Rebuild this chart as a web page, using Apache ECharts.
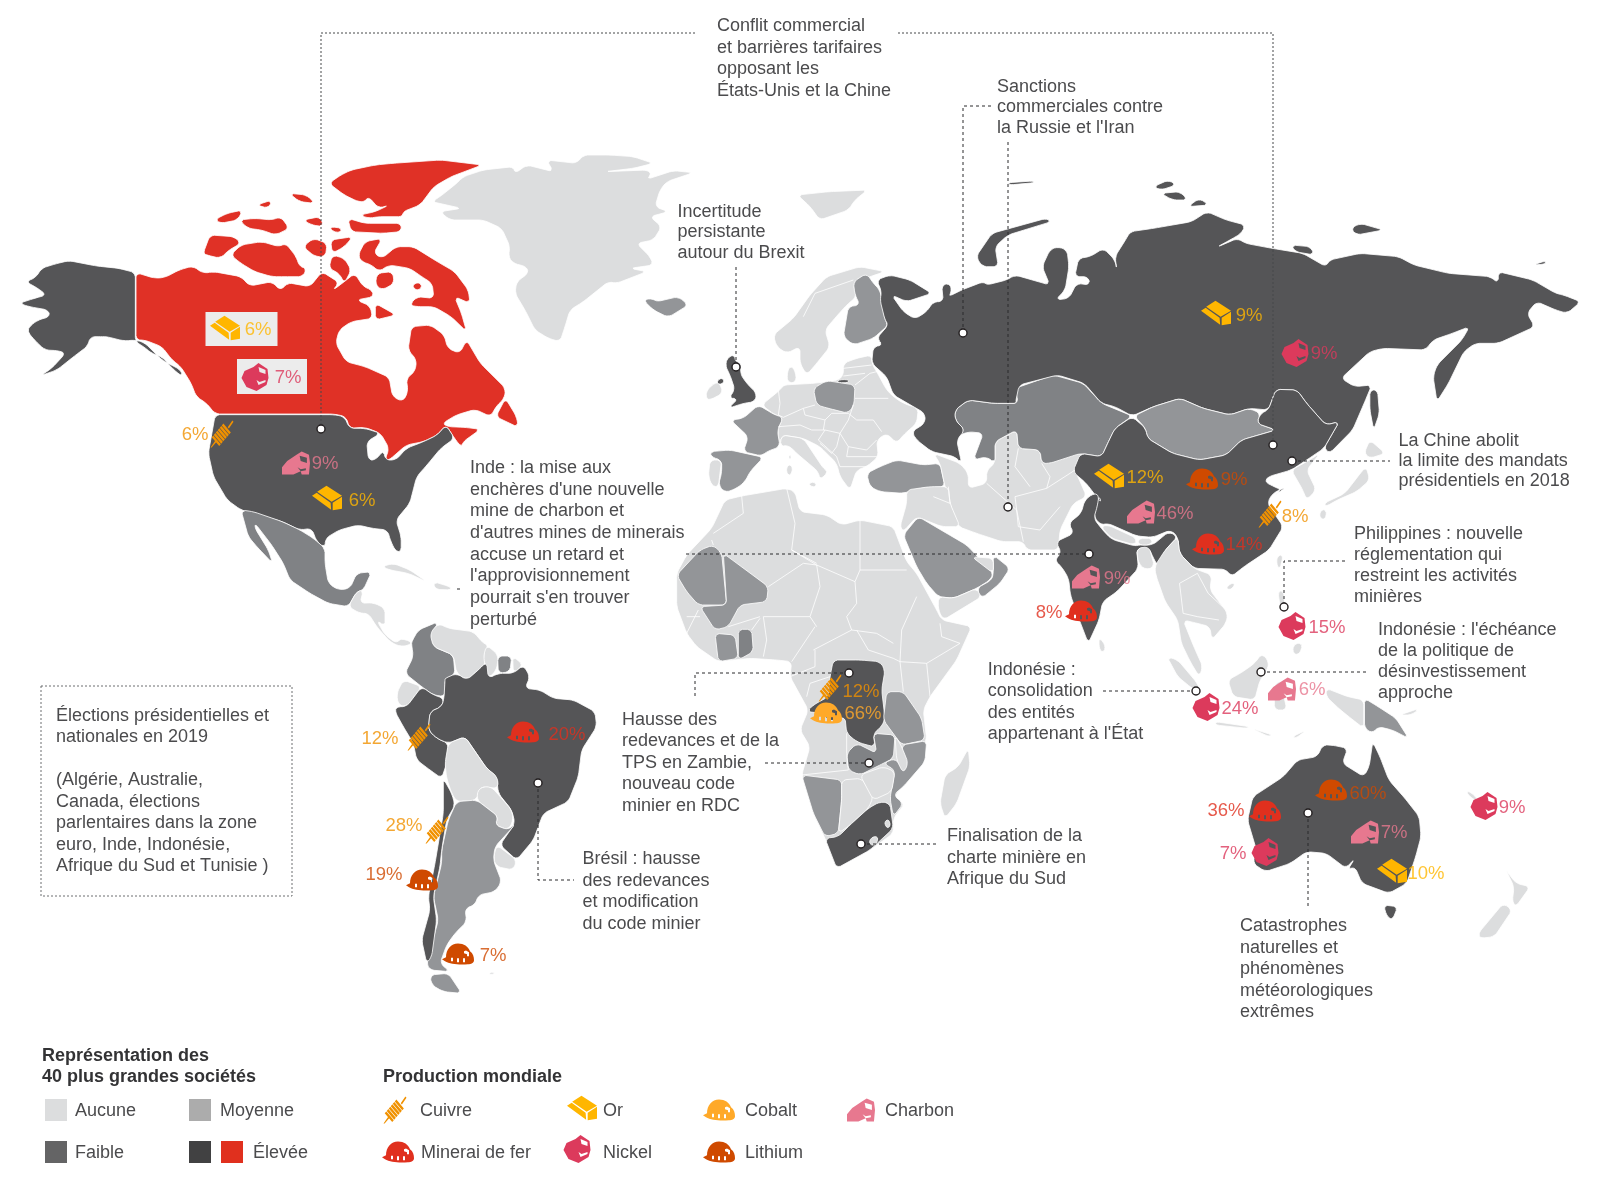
<!DOCTYPE html>
<html>
<head>
<meta charset="utf-8">
<title>Production mondiale</title>
<script src="https://cdn.jsdelivr.net/npm/echarts@6/dist/echarts.min.js"></script>
<style>
  html, body { margin: 0; padding: 0; background: #fff; }
  #chart { width: 1601px; height: 1181px; }
</style>
</head>
<body>
<div id="chart"></div>
<script>
// representation levels
const levelAucune = ["Afrique", "Groenland", "Svalbard", "Scandinavie", "Irlande", "Portugal", "Europe", "Italie", "Asie centrale", "Moyen-Orient", "Yemen", "EAU", "Amerique centrale", "Cuba", "Hispaniola", "Venezuela", "Guyana", "Guyane", "Equateur", "Bolivie", "Paraguay", "Uruguay", "Malouines", "Malawi", "Botswana", "Zimbabwe", "Lesotho", "Swaziland", "Madagascar", "Nepal", "Bhoutan", "Bangladesh", "Coree", "Japon", "Taiwan", "Hainan", "Sri Lanka", "Asie du Sud-Est", "Sumatra", "Java", "Timor", "Borneo", "Sulawesi", "Luzon", "Mindanao", "Nouvelle-Guinee indonesienne", "Nouvelle-Bretagne", "Nouvelle-Caledonie", "Nouvelle-Zelande"];
const levelFaible = ["Mexique", "Colombie", "Suriname", "Kazakhstan", "Ghana", "Zambie"];
const levelMoyenne = ["Argentine", "Islande", "Finlande", "France", "Espagne", "Pologne", "Turquie", "Arabie saoudite", "Oman", "Mauritanie", "Mali", "Cote d'Ivoire", "Tanzanie", "Mozambique", "Namibie", "Mongolie", "Papouasie"];
const levelElevee = ["Alaska", "Etats-Unis", "Perou", "Bresil", "Chili", "Royaume-Uni", "Irlande du Nord", "Kaliningrad", "Russie", "Arctique russe", "Sakhaline", "RDC", "Afrique du Sud", "Chine", "Inde", "Australie", "Tasmanie"];
const levelRouge = ["Canada", "Arctique canadien"];
const levelColors = { aucune: "#dcddde", faible: "#808285", moyenne: "#939598", elevee: "#555557", rouge: "#e03126" };

// world production shares
const minerals = ["Cuivre", "Or", "Cobalt", "Charbon", "Minerai de fer", "Nickel", "Lithium"];
const mineralColors = ["#f09100", "#ffb600", "#ffa929", "#e7788f", "#e0301e", "#dc3a5c", "#cf4a00"];
const shareMineral = ["Or", "Nickel", "Cuivre", "Charbon", "Or", "Cuivre", "Minerai de fer", "Cuivre", "Lithium", "Lithium", "Cuivre", "Cobalt", "Or", "Nickel", "Or", "Lithium", "Charbon", "Cuivre", "Minerai de fer", "Charbon", "Minerai de fer", "Nickel", "Nickel", "Charbon", "Lithium", "Minerai de fer", "Nickel", "Charbon", "Or", "Nickel"];
const sharePct = [6, 7, 6, 9, 6, 12, 20, 28, 19, 7, 12, 66, 9, 9, 12, 9, 46, 8, 14, 9, 8, 15, 24, 6, 60, 36, 7, 7, 10, 9];
const shareIconAt = [[225,328],[255,377],[222,434],[296,463],[327,498],[419,737],[523,732],[437,830],[422,880],[458,954],[830,688],[826,713],[1216,313],[1295,353],[1109,476],[1202,479],[1141,512],[1270,514],[1208,544],[1086,577],[1081,611],[1292,626],[1206,707],[1282,689],[1331,790],[1265,811],[1265,852],[1365,832],[1392,871],[1484,806]];
const shareLabelAt = [[258,330],[288,378],[195,435],[325,464],[362,501],[380,739],[567,735],[404,826],[384,875],[493,956],[861,692],[863,714],[1249,316],[1324,354],[1145,478],[1234,480],[1175,514],[1295,517],[1244,545],[1117,579],[1049,613],[1327,628],[1240,709],[1312,690],[1368,794],[1226,811],[1233,854],[1394,833],[1426,874],[1512,808]];
const labelBoxes = [[241.5,329,72,34],[272,376.5,70,35]];
const legendIconAt = [[395,1110],[582,1108],[719,1110],[861,1110],[398,1152],[577,1149],[719,1152]];
const legendTextX = [420,603,745,885,421,603,745];

// leader lines
const tradeLines = [[[321,429],[321,33],[695,33]], [[898,33],[1273,33],[1273,445]]];
const noteLines = [[[991,106],[963,106],[963,333]], [[1008,142],[1008,507]], [[736,267],[736,367]], [[686,554],[1089,554]], [[538,783],[538,880],[574,880]], [[849,673],[695,673],[695,697]], [[765,763],[869,763]], [[861,844],[938,844]], [[1345,561],[1284,561],[1284,607]], [[1261,672],[1368,672]], [[1103,691],[1196,691]], [[1308,813],[1308,906]], [[1292,461],[1390,461]], [[457,589],[463,589]]];
const noteDots = [[321,429],[1273,445],[963,333],[1008,507],[736,367],[1089,554],[538,783],[849,673],[869,763],[861,844],[1284,607],[1261,672],[1196,691],[1308,813],[1292,461]];

// notes: x, first line y, line height, lines
const notes = [
  [717, 26, 21.6, ["Conflit commercial", "et barrières tarifaires", "opposant les", "États-Unis et la Chine"]],
  [997, 87, 20.4, ["Sanctions", "commerciales contre", "la Russie et l'Iran"]],
  [677.5, 211.7, 20.5, ["Incertitude", "persistante", "autour du Brexit"]],
  [470, 468, 21.7, ["Inde : la mise aux", "enchères d'une nouvelle", "mine de charbon et", "d'autres mines de minerais", "accuse un retard et", "l'approvisionnement", "pourrait s'en trouver", "perturbé"]],
  [1398.6, 441, 20, ["La Chine abolit", "la limite des mandats", "présidentiels en 2018"]],
  [1354, 533.7, 21, ["Philippines : nouvelle", "réglementation qui", "restreint les activités", "minières"]],
  [1378, 630, 21, ["Indonésie : l'échéance", "de la politique de", "désinvestissement", "approche"]],
  [987.7, 670, 21.5, ["Indonésie :", "consolidation", "des entités", "appartenant à l'État"]],
  [622, 720, 21.5, ["Hausse des", "redevances et de la", "TPS en Zambie,", "nouveau code", "minier en RDC"]],
  [947, 836.5, 21.5, ["Finalisation de la", "charte minière en", "Afrique du Sud"]],
  [582.5, 859, 21.7, ["Brésil : hausse", "des redevances", "et modification", "du code minier"]],
  [1240, 926.4, 21.5, ["Catastrophes", "naturelles et", "phénomènes", "météorologiques", "extrêmes"]],
  [56, 716, 21.5, ["Élections présidentielles et", "nationales en 2019", "", "(Algérie, Australie,", "Canada, élections", "parlentaires dans la zone", "euro, Inde, Indonésie,", "Afrique du Sud et Tunisie )"]]
];
const legendTitles = [[42, 1056, "Représentation des"], [42, 1077, "40 plus grandes sociétés"], [383, 1077, "Production mondiale"]];
const levelLegend = [[75, 1111, "Aucune"], [220, 1111, "Moyenne"], [75, 1153, "Faible"], [253, 1153, "Élevée"]];
const levelSwatches = [[45, 1099, "#dcddde"], [189, 1099, "#acacac"], [45, 1141, "#646465"], [189, 1141, "#414142"], [221, 1141, "#e0301e"]];

// crops the outlines were traced in: origin and scale
const Z1 = [0, 140, 2.904, 3], Z2 = [200, 530, 3, 3], Z3 = [640, 240, 3, 3], Z4 = [660, 470, 3, 3], Z5 = [1000, 170, 2.609, 3], Z6 = [1040, 480, 2.795, 3], Z8 = [300, 0, 1.568, 3], ZG = [420, 140, 3, 3], ZE = [700, 340, 3, 3];

function trace() {
  const out = [];
  for (let i = 0; i < arguments.length; i += 2) {
    const z = arguments[i], p = arguments[i + 1];
    for (let j = 0; j < p.length; j += 2) out.push([z[0] + p[j] / z[2], -(z[1] + p[j + 1] / z[3])]);
  }
  return out;
}

// rounds the traced corners a little, long straight borders stay straight
function soften(pts, cut) {
  const out = [], n = pts.length;
  const toward = function (a, b) {
    const dx = b[0] - a[0], dy = b[1] - a[1], len = Math.sqrt(dx * dx + dy * dy) || 1;
    const d = Math.min(len * 0.3, cut);
    return [a[0] + dx / len * d, a[1] + dy / len * d];
  };
  for (let i = 0; i < n; i++) {
    out.push(toward(pts[i], pts[(i + n - 1) % n]));
    out.push(toward(pts[i], pts[(i + 1) % n]));
  }
  return out;
}

function ring() {
  const out = soften(soften(trace.apply(null, arguments), 3), 1.2);
  out.push(out[0]);
  return out;
}

const outlines = [
  ["Groenland", [ring(ZG, [35,185,60,170,110,130,130,110,190,90,280,80,285,100,320,75,400,95,380,60,470,70,490,45,570,45,640,50,700,70,640,85,555,95,680,90,695,100,680,118,760,92,820,98,740,125,720,150,705,200,745,215,690,230,725,260,700,300,650,310,690,350,700,375,630,385,680,395,590,430,565,425,490,485,450,510,435,560,420,605,385,595,345,570,315,510,285,460,290,425,325,400,320,380,280,370,265,350,270,320,245,265,190,240,90,240,60,215,125,205])]],
  ["Svalbard", [ring(Z8, [780,585,830,575,890,570,870,600,860,630,815,660,800,620])]],
  ["Alaska", [ring(Z1, [393,398,345,385,280,378,200,362,160,372,120,385,105,412,75,425,110,445,135,465,100,475,55,490,85,500,140,510,145,530,110,540,85,560,80,575,100,600,130,630,170,632,190,640,150,685,118,707,165,690,220,645,255,618,262,590,297,590,310,590,360,603,393,600,420,608,470,660,525,690,530,710,505,690,470,650,440,640,420,622,393,605])]],
  ["Canada", [
    ring(Z1, [395,398,450,415,480,412,520,390,560,378,590,400,620,395,700,410,725,438,790,425,815,452,835,428,900,440,935,395,985,428,965,452,1000,425,1030,400,1055,440,1080,450,1085,470,1035,480,1075,498,1082,535,1020,545,985,570,975,610,1005,665,1060,680,1130,712,1140,770,1170,785,1185,755,1180,715,1205,695,1210,660,1185,630,1195,560,1250,555,1290,585,1300,625,1335,640,1355,600,1395,670,1468,745,1465,775,1440,800,1425,830,1380,808,1325,825,1285,850,1300,860,1350,862,1395,868,1345,905,1340,922,1320,895,1295,855,1270,885,1230,905,1180,915,1130,960,1118,960,1130,925,1105,880,1060,862,1015,865,1005,830,970,822,625,822,600,790,570,770,555,730,525,680,500,660,470,620,420,600,395,600]),
    ring(Z1, [1468,775,1440,830,1505,862,1500,830])
  ]],
  ["Arctique canadien", [
    ring(Z1, [590,340,610,285,680,290,700,310,665,330,640,355,600,345]),
    ring(Z1, [670,345,700,315,760,305,810,320,830,310,860,350,870,380,890,385,880,410,830,410,790,410,740,395,700,370]),
    ring(Z1, [625,238,660,220,705,210,690,240,640,250]),
    ring(Z1, [695,240,740,235,790,240,815,230,840,265,800,285,760,270,720,265]),
    ring(Z1, [745,195,790,180,780,205]),
    ring(Z1, [840,160,890,165,915,190,870,185]),
    ring(Z1, [880,240,930,230,940,260,905,255]),
    ring(Z1, [955,130,990,105,1020,90,1090,75,1140,70,1280,60,1400,75,1310,110,1260,140,1220,195,1170,215,1170,230,1100,230,1070,235,1045,225,1090,215,1130,195,1100,205,1070,170,1060,185,1040,185,1000,165]),
    ring(Z1, [1010,235,1060,250,1165,250,1165,275,1110,280,1020,275]),
    ring(Z1, [960,260,995,265,985,280,960,270]),
    ring(Z1, [880,320,910,295,950,310,945,350,915,350]),
    ring(Z1, [960,300,1025,290,1000,320,965,340]),
    ring(Z1, [955,385,965,345,1000,355,1020,390,1000,430,985,400]),
    ring(Z1, [1040,345,1060,305,1110,295,1085,340,1110,355,1150,320,1200,320,1270,365,1320,395,1360,450,1365,490,1320,470,1340,520,1355,575,1310,530,1260,500,1210,500,1190,495,1210,470,1260,475,1255,430,1225,410,1190,385,1130,375,1100,395,1080,375,1050,365]),
    ring(Z1, [1095,400,1140,395,1145,430,1110,450,1090,435]),
    ring(Z1, [1090,490,1150,525,1090,540]),
    ring(Z1, [1200,430,1225,428,1222,450,1200,448])
  ]],
  ["Etats-Unis", [ring(Z1, [625,824,970,824,1000,830,1015,865,1060,865,1105,880,1065,905,1070,960,1090,960,1115,930,1118,960,1150,960,1180,925,1230,905,1270,885,1295,855,1320,895,1280,925,1240,975,1210,1010,1200,1050,1190,1090,1150,1140,1165,1190,1165,1235,1150,1235,1135,1205,1125,1170,1080,1165,1040,1155,985,1170,945,1195,944,1224,920,1205,905,1165,870,1170,820,1145,770,1130,700,1110,660,1080,620,1010,605,940])]],
  ["Mexique", [ring(Z2, [123,-60,160,-55,247,-25,300,0,340,25,375,55,375,100,385,160,415,180,450,175,470,130,515,125,490,180,470,185,445,230,385,220,330,190,270,150,250,100,215,45,165,-20,165,-5,205,60,218,100,175,55,145,20])]],
  ["Amerique centrale", [ring(Z2, [445,230,470,185,490,180,480,220,520,218,555,235,555,290,530,270,555,315,590,340,600,325,635,335,630,345,600,350,570,335,530,290,505,250,480,250])]],
  ["Cuba", [ring(Z2, [545,110,580,100,630,120,680,155,625,130,570,120])]],
  ["Hispaniola", [ring(Z2, [700,155,750,170,755,180,705,178])]],
  ["Colombie", [ring(Z2, [635,335,655,300,715,275,695,315,700,350,760,375,765,435,735,445,735,500,700,495,665,470,615,430,640,380,635,345])]],
  ["Venezuela", [ring(Z2, [690,310,715,280,745,295,820,305,850,340,865,345,850,380,860,395,835,420,800,450,770,430,760,375,700,350])]],
  ["Guyana", [ring(Z2, [860,345,895,375,890,420,865,445,850,380])]],
  ["Suriname", [ring(Z2, [893,378,935,378,930,425,895,430])]],
  ["Guyane", [ring(Z2, [938,378,970,405,940,430])]],
  ["Equateur", [ring(Z2, [610,450,665,470,620,530,595,525,590,490])]],
  ["Perou", [ring(Z2, [590,530,620,530,665,470,700,495,732,505,725,530,690,545,685,600,710,625,745,640,740,700,725,745,690,720,650,690,640,640,610,590,585,545])]],
  ["Bresil", [ring(Z2, [735,445,770,430,800,450,835,420,860,395,865,445,895,430,940,430,970,405,990,440,975,475,1020,480,1060,505,1120,510,1185,545,1190,590,1145,660,1135,740,1105,815,1030,850,1000,930,950,990,900,945,945,880,935,840,895,790,890,740,860,715,795,620,745,640,710,625,685,600,690,545,725,530,732,505,735,450])]],
  ["Bolivie", [ring(Z2, [745,640,795,620,860,715,892,740,895,775,840,770,830,810,770,815,755,790,740,745,735,700])]],
  ["Paraguay", [ring(Z2, [835,775,870,768,892,790,935,840,940,870,925,900,885,885,895,860,830,810])]],
  ["Uruguay", [ring(Z2, [890,945,950,990,940,1020,890,1010,880,985])]],
  ["Argentine", [
    ring(Z2, [770,815,830,810,895,860,885,885,925,900,945,880,940,890,885,950,880,990,905,1055,885,1085,835,1095,825,1125,795,1135,800,1175,765,1210,740,1245,720,1300,750,1325,690,1320,680,1300,715,1170,700,1100,725,1000,725,960,745,870]),
    ring(Z2, [690,1335,745,1330,785,1390,730,1385,695,1365])
  ]],
  ["Chili", [ring(Z2, [730,745,755,790,765,825,740,870,725,960,720,1010,700,1100,710,1170,695,1280,680,1300,665,1230,690,1140,685,1100,705,1000,730,850])]],
  ["Malouines", [ring(Z2, [860,1330,885,1325,880,1335])]],
  ["Islande", [ring(Z3, [10,180,35,175,50,185,115,170,145,195,85,232,40,210])]],
  ["Scandinavie", [
    ring(Z3, [400,285,460,235,510,165,560,110,660,80,735,95,690,110,640,130,650,170,620,195,580,240,555,270,570,320,530,370,500,405,480,370,480,320,440,340,410,320]),
    ring(ZE, [260,105,270,75,285,90,290,125,265,130])
  ]],
  ["Finlande", [ring(Z3, [640,125,680,100,700,130,720,150,735,240,745,255,700,295,640,315,610,290,625,200,660,195,645,165])]],
  ["Irlande", [ring(ZE, [18,175,20,150,50,125,62,135,68,160,30,180])]],
  ["Royaume-Uni", [ring(ZE, [75,75,85,50,105,45,105,65,125,70,120,100,140,130,170,160,165,185,130,190,85,205,115,175,85,175,105,150,90,105])]],
  ["Irlande du Nord", [ring(ZE, [48,125,65,112,75,125,60,135])]],
  ["Europe", [ring(ZE, [185,195,240,150,250,135,340,130,410,122,430,108,430,70,470,55,515,45,515,70,530,95,560,150,580,170,610,190,655,205,650,250,610,285,590,310,560,280,530,300,535,350,500,380,470,390,450,450,420,410,410,370,360,320,310,295,245,285,240,320,232,270,250,232,225,225])]],
  ["Italie", [
    ring(ZE, [245,285,310,295,370,385,385,395,360,420,355,395,290,340,265,315,240,320]),
    ring(ZE, [320,430,350,425,345,445]),
    ring(ZE, [260,375,278,375,275,405,260,405]),
    ring(ZE, [265,345,275,345,270,365])
  ]],
  ["France", [ring(ZE, [92,240,130,235,175,195,225,225,250,232,232,270,240,320,200,335,185,348,130,335,145,290])]],
  ["Espagne", [ring(ZE, [30,335,90,330,190,352,150,395,135,425,110,445,75,458,55,435,65,400,65,360,35,352])]],
  ["Portugal", [ring(ZE, [30,360,65,360,60,400,55,440,38,440,25,410])]],
  ["Pologne", [ring(ZE, [340,145,380,122,465,135,462,195,445,220,385,205,350,195])]],
  ["Kaliningrad", [ring(Z3, [592,420,625,418,628,428,592,428])]],
  ["Turquie", [ring(Z3, [680,700,720,680,770,660,850,675,900,670,915,740,840,745,790,760,720,755,690,740])]],
  ["Asie centrale", [ring(Z3, [900,670,880,640,960,670,985,700,985,745,1040,730,1040,690,1065,670,1065,605,1130,570,1135,625,1200,630,1205,670,1290,640,1380,650,1360,680,1305,690,1340,770,1300,790,1260,870,1255,930,1160,930,1150,905,1085,905,1010,880,955,860,930,790,915,740])]],
  ["Moyen-Orient", [ring(Z3, [800,750,870,740,925,740,930,790,960,860,905,860,830,830,790,875,780,860,800,790])]],
  ["Kazakhstan", [ring(Z3, [945,510,985,480,1060,490,1135,490,1125,445,1240,405,1330,430], Z5, [265,700,345,738,300,775,285,810,265,860,210,850,130,880], Z3, [1205,670,1200,630,1135,625,1130,570,1065,605,1065,670,1040,650,1000,660,1030,580,985,575,950,590,975,570,945,540])]],
  ["Russie", [ring(Z3, [710,120,750,105,810,120,875,160,800,185,755,165,790,215,825,237,860,215,880,185,910,185,905,135,930,130,935,155,925,170,965,150,1030,125,1040,135,1100,120,1125,105], Z5, [130,345,110,290,130,240,150,230,175,240,180,290,170,360,145,390,180,385,200,340,235,345,230,320,195,320,205,265,235,260,270,235,300,270,305,300,300,260,330,205,340,185,400,175,500,155,540,125,590,150,640,165,630,190,600,210,565,232,620,205,640,220,710,235,790,250,850,290,860,270,940,250,1040,260,1080,285,1170,310,1280,320,1300,340,1300,305,1390,330,1450,370,1470,375,1515,395,1480,430,1450,420,1400,395,1375,430,1395,470,1300,520,1240,520,1210,545,1170,640,1140,695,1130,620,1140,585,1205,510,1225,470,1180,490,1130,510,1110,540,1000,535,965,545,890,625,925,650,970,645,950,700,920,780,860,850,845,835,885,755,850,765,800,700,775,660,720,658,700,720,650,715,600,735,530,715,470,685,400,710,345,738,300,710,265,700,220,640,150,615,50,645,40,700], Z3, [1135,490,1060,490,985,480,945,510,945,540,975,570,950,600,965,670,945,650,875,635,830,600,815,575,855,550,855,520,760,465,740,410,695,370,700,320,730,315,710,295,745,255,735,240,720,180,725,155])]],
  ["Arctique russe", [
    ring(Z8, [1060,770,1085,700,1170,655,1178,665,1110,705,1090,740,1095,800,1070,800]),
    ring(Z8, [1110,548,1150,543,1152,548,1112,555]),
    ring(Z5, [400,50,440,30,460,45,420,60]),
    ring(Z5, [420,70,470,65,490,90,450,90]),
    ring(Z5, [490,110,520,85,545,105]),
    ring(Z5, [760,225,810,230,820,255,770,245]),
    ring(Z5, [915,175,940,160,1000,180,930,195]),
    ring(Z5, [1390,285,1425,272,1425,282])
  ]],
  ["Sakhaline", [ring(Z5, [965,660,985,660,990,730,975,780,965,720])]],
  ["Afrique", [ring(Z4, [50,310,80,255,155,175,195,90,245,78,380,55,405,65,420,125,500,135,545,165,600,150,700,170,740,275,770,310,830,420,845,450,935,470,890,570,810,680,790,720,800,810,735,930,700,990,735,1000,700,1045,700,1090,630,1140,530,1195,495,1105,460,1030,425,915,450,830,420,780,445,720,390,620,395,575,350,570,270,565,175,575,110,530,80,490,50,410])]],
  ["Mauritanie", [ring(Z4, [50,315,120,240,160,225,185,250,200,405,115,405,80,365])]],
  ["Mali", [ring(Z4, [190,250,325,350,320,395,240,405,205,470,165,480,120,410,200,405])]],
  ["Cote d'Ivoire", [ring(Z4, [165,490,225,495,235,565,175,575])]],
  ["Ghana", [ring(Z4, [235,478,275,478,280,545,235,570])]],
  ["RDC", [ring(Z4, [520,570,600,570,660,575,675,600,665,660,675,745,665,770,640,790,645,830,620,825,590,815,560,790,555,740,505,755,490,730,440,725,460,705,505,680,510,620])]],
  ["Tanzanie", [ring(Z4, [680,665,730,665,785,745,795,810,725,825,670,750])]],
  ["Zambie", [ring(Z4, [640,790,705,795,700,865,670,880,600,915,565,900,560,850,590,820,650,850])]],
  ["Mozambique", [ring(Z4, [725,825,800,812,795,875,730,950,700,975,730,1000,700,1040,690,985,705,900,670,880,705,865,735,905])]],
  ["Malawi", [ring(Z4, [705,795,725,830,745,880,730,910,710,870])]],
  ["Namibie", [ring(Z4, [425,915,545,930,545,990,535,1090,495,1100,460,1030])]],
  ["Botswana", [ring(Z4, [545,930,605,925,640,980,625,1015,570,1065,535,1090,545,990])]],
  ["Zimbabwe", [ring(Z4, [600,915,670,890,705,905,695,965,640,990])]],
  ["Afrique du Sud", [ring(Z4, [495,1105,535,1100,570,1065,625,1015,660,995,690,1000,700,1075,630,1140,530,1195])]],
  ["Lesotho", [ring(Z4, [625,1110,650,1095,655,1115,635,1130])]],
  ["Swaziland", [ring(Z4, [675,1050,690,1050,690,1075,675,1070])]],
  ["Madagascar", [ring(Z4, [925,835,930,890,890,1000,855,1045,840,1000,855,915,895,890])]],
  ["Arabie saoudite", [ring(Z4, [730,195,775,140,860,190,920,225,1000,310,990,330,950,355,880,385,835,380,800,340,770,290])]],
  ["Yemen", [ring(Z4, [835,380,880,385,950,355,965,380,850,450,835,420])]],
  ["Oman", [ring(Z4, [1000,255,1050,295,1020,340,965,385,950,355,995,330,1000,310])]],
  ["EAU", [ring(Z4, [935,260,1000,265,1000,310])]],
  ["Mongolie", [ring(Z5, [350,738,400,710,470,685,530,715,600,735,650,715,680,730,670,760,720,780,630,810,590,855,520,870,450,850,385,805,380,775])]],
  ["Chine", [ring(Z5, [345,740,380,775,385,805,450,850,520,870,590,855,630,810,720,780,670,760,680,730,700,720,720,658,775,660,800,700,850,765,885,755,845,835,800,870,760,900,700,920,690,935,715,950,735,960,700,990], Z6, [690,20,650,40,635,70,680,140,640,210,570,260,535,290,520,268,430,265,390,220,385,170,365,150,315,172,270,168,190,130,170,135,150,110,165,45], Z5, [265,1000,225,940,190,905,210,850,265,860,285,810,300,775])]],
  ["Inde", [ring(Z6, [150,40,165,45,160,80,150,115,175,150,200,178,265,198,275,195,315,195,360,155,385,170,350,210,330,260,315,230,305,205,270,205,275,265,215,335,175,365,165,420,135,490,110,420,85,345,80,295,60,260,40,240,60,220,45,185,95,160,80,130,115,100,125,60])]],
  ["Nepal", [ring(Z6, [170,140,190,135,270,175,265,195,200,175])]],
  ["Bhoutan", [ring(Z6, [275,175,315,175,310,195,275,195])]],
  ["Bangladesh", [ring(Z6, [270,205,305,200,320,260,295,270,275,250])]],
  ["Sri Lanka", [ring(Z6, [165,470,185,500,175,520,165,505])]],
  ["Coree", [ring(Z5, [760,900,800,875,835,850,800,900,825,960,800,990,790,960])]],
  ["Japon", [
    ring(Z5, [965,810,1005,850,965,865,950,850]),
    ring(Z5, [955,890,965,930,930,965,880,990,850,1010,845,1000,900,970,940,910]),
    ring(Z6, [780,95,800,85,800,115,785,120])
  ]],
  ["Taiwan", [ring(Z6, [665,225,680,225,670,270,660,250])]],
  ["Hainan", [ring(Z6, [520,320,545,305,540,325,525,330])]],
  ["Asie du Sud-Est", [ring(Z6, [320,260,350,210,385,170,390,220,430,265,480,285,475,330,525,400,520,430,480,480,475,440,440,430,400,420,430,500,455,560,445,590,420,545,395,490,385,420,350,365,325,290])]],
  ["Sumatra", [ring(Z6, [355,530,385,540,440,610,450,640,425,625,385,590])]],
  ["Java", [ring(Z6, [490,725,585,740,580,745,490,735])]],
  ["Timor", [ring(Z6, [705,770,745,750,715,775]), ring(Z6, [590,745,650,765,640,770])]],
  ["Borneo", [ring(Z6, [525,600,560,580,600,550,620,520,640,545,635,570,615,600,600,660,540,650])]],
  ["Sulawesi", [ring(Z6, [655,610,690,600,680,640,690,690,655,690,655,650])]],
  ["Luzon", [ring(Z6, [665,335,680,330,685,380,672,385])]],
  ["Mindanao", [ring(Z6, [710,490,735,490,725,525,705,520])]],
  ["Nouvelle-Guinee indonesienne", [ring(Z6, [800,625,860,650,905,660,905,745,875,720,840,690,800,650])]],
  ["Papouasie", [ring(Z6, [907,655,945,680,995,715,1030,775,985,750,945,740,930,760,907,745])]],
  ["Nouvelle-Bretagne", [ring(Z6, [1005,705,1060,685,1040,705])]],
  ["Nouvelle-Caledonie", [ring(Z6, [1190,930,1215,945,1225,965,1200,950])]],
  ["Australie", [ring(Z6, [775,830,790,795,815,795,860,805,845,850,905,890,920,860,930,785,950,830,975,900,1020,955,1060,1010,1065,1070,1050,1130,1025,1210,975,1240,900,1210,880,1160,860,1170,880,1135,855,1165,800,1120,745,1115,700,1150,630,1175,595,1150,605,1110,580,1020,595,950,680,890,720,840])]],
  ["Tasmanie", [ring(Z6, [960,1275,1000,1280,985,1320,970,1310])]],
  ["Nouvelle-Zelande", [ring(Z6, [1300,1165,1330,1210,1370,1220,1330,1280,1320,1265,1325,1220]), ring(Z6, [1295,1270,1320,1290,1270,1370,1230,1375,1225,1360])]]
];

// thin white inner borders
const innerBorders = [
  trace(Z3, [490,230,525,160,640,120]),
  trace(ZE, [235,150,240,190,235,225,250,232]),
  trace(ZE, [250,232,310,205,345,195]),
  trace(ZE, [310,205,315,225,375,240,395,220,445,220]),
  trace(ZE, [235,260,300,255,335,270,375,270,420,280]),
  trace(ZE, [375,240,370,270]),
  trace(ZE, [420,280,445,240,460,195]),
  trace(ZE, [445,220,470,240,520,240,545,275]),
  trace(ZE, [465,175,565,175]),
  trace(ZE, [465,135,510,100,530,95]),
  trace(ZE, [430,108,495,100]),
  trace(ZE, [430,85,515,75]),
  trace(ZE, [375,270,355,300,410,350,420,380]),
  trace(ZE, [420,280,445,320,500,330,530,300]),
  trace(ZE, [445,320,440,350,530,350]),
  trace(ZE, [420,380,500,380]),
  trace(ZE, [360,310,395,340,410,320,420,280]),
  trace(Z3, [1040,730,1130,810,1150,905]),
  trace(Z3, [1130,810,1125,770,1220,745,1290,700,1305,690]),
  trace(Z3, [1135,625,1125,680,1170,740]),
  trace(Z3, [1205,670,1230,710,1220,745]),
  trace(Z3, [1130,810,1135,860,1200,870,1260,800]),
  trace(Z3, [925,740,930,790,880,770]),
  trace(Z4, [245,78,250,130,160,190]),
  trace(Z4, [380,55,405,160,395,240,470,280]),
  trace(Z4, [155,210,160,225]),
  trace(Z4, [600,150,600,300]),
  trace(Z4, [600,300,740,300]),
  trace(Z4, [395,240,470,285,585,335,600,300]),
  trace(Z4, [325,350,430,280,470,285]),
  trace(Z4, [470,285,480,350,450,440]),
  trace(Z4, [585,335,590,400,560,440,575,480]),
  trace(Z4, [310,440,450,440,470,470]),
  trace(Z4, [310,440,320,510,310,560]),
  trace(Z4, [465,470,395,575]),
  trace(Z4, [460,540,575,480,650,490,700,520]),
  trace(Z4, [590,480,625,540,700,565,720,575]),
  trace(Z4, [770,380,725,480,720,575]),
  trace(Z4, [720,575,800,580,900,520]),
  trace(Z4, [840,460,845,500,900,520]),
  trace(Z4, [720,575,730,665]),
  trace(Z4, [800,580,810,680]),
  trace(Z4, [465,540,465,590,390,620]),
  trace(Z4, [510,620,450,640,440,680]),
  trace(Z4, [560,790,560,850,565,900,425,915]),
  trace(Z4, [80,490,115,420]),
  trace(Z4, [80,440,120,440]),
  trace(Z4, [205,470,300,440]),
  trace(Z4, [275,480,300,445]),
  trace(Z6, [390,310,440,280,470,340,510,380]),
  trace(Z6, [390,310,400,400,440,410,500,420])
];

const worldMap = {
  type: "FeatureCollection",
  features: outlines.map(function (o) {
    return { type: "Feature", properties: { name: o[0] }, geometry: { type: "MultiPolygon", coordinates: o[1].map(function (r) { return [r]; }) } };
  })
};
echarts.registerMap("monde", worldMap);

function levelRegions(names, color) {
  return names.map(function (n) { return { name: n, itemStyle: { areaColor: color } }; });
}

// icons
function coilPath() {
  let d = "M0 40 L9 29 L11 31 L2 40Z M30 10 L38 0 L40 2 L32 12Z";
  [[10,30],[13.5,26.5],[17,23],[20.5,19.5],[24,16],[27.5,12.5]].forEach(function (c) {
    const x = c[0], y = c[1], t = 1.4, h = 6.5;
    d += " M" + (x - h - t) + " " + (y - h + t) + " L" + (x - h + t) + " " + (y - h - t) + " L" + (x + h + t) + " " + (y + h - t) + " L" + (x + h - t) + " " + (y + h + t) + "Z";
  });
  return "path://" + d;
}
const goldPath = "path://M5 6 L14 0 L29 10 L19 16Z M0 10 L4.5 7 L18 17 L18.5 24Z M20 17 L29 11 L29 23 L20 24.5Z";
const helmetPath = "path://M0 16 L4 14 C4 6 9 0 16 0 C22 0 26 3 28 8 C31 10 32 14 32 17 C32 20 29 21 26 21 C18 22 8 21 3 18Z M9 18 L11 18 L11 14.5 L9 14.5Z M15 19 L17 19 L17 15 L15 15Z M21 19 L23 19 L23 15 L21 15Z M22 8 L22 10 L25 11 L25 13 L27 13 L27 9 L24 7Z";
const nickelPath = "path://M3 8 L12 4 L17 0 L26 6 L27 15 L25 22 L15 28 L5 24 L0 15Z M17 4 L18 9 L24 11 L24 7Z M15 17 L17 22 L24 19 L24 17 L18 19Z";
const coalPath = "path://M0 22 L0 15 L5 9 L14 3 L19 0 L26 3 L27 11 L26 22 L19 22 L18 19 L11 22Z M17 4 L18 9 L24 11 L24 6Z M15 15 L18 19 L23 18 L23 16 L18 17Z";
const mineralSymbols = [coilPath(), goldPath, helmetPath, coalPath, helmetPath, nickelPath, helmetPath];
const mineralSizes = [[23, 27], [30, 24.5], [32, 21], [28, 23], [32, 21], [27, 28], [32, 21]];

const xy = function (p) { return [p[0], -p[1]]; };

const iconSeries = minerals.map(function (m, i) {
  const pts = [];
  shareMineral.forEach(function (s, k) { if (s === m) pts.push(xy(shareIconAt[k])); });
  pts.push(xy(legendIconAt[i]));
  return {
    type: "scatter", coordinateSystem: "geo", name: m, silent: true, z: 6,
    symbol: mineralSymbols[i], symbolSize: mineralSizes[i], symbolKeepAspect: false,
    itemStyle: { color: mineralColors[i], opacity: 1 }, data: pts
  };
});

const pctSeries = {
  type: "scatter", coordinateSystem: "geo", silent: true, z: 7, symbolSize: 1,
  itemStyle: { color: "rgba(0,0,0,0)" },
  label: {
    show: true, position: "inside", fontFamily: "Liberation Sans", fontSize: 18.5,
    formatter: function (p) { return p.data.pct + "%"; }
  },
  labelLayout: { hideOverlap: false },
  data: sharePct.map(function (v, k) {
    return { value: xy(shareLabelAt[k]), pct: v, label: { color: mineralColors[minerals.indexOf(shareMineral[k])] } };
  })
};

const boxSeries = {
  type: "scatter", coordinateSystem: "geo", silent: true, z: 4, symbol: "rect",
  itemStyle: { color: "#ececec", opacity: 1 },
  data: labelBoxes.map(function (b) { return { value: [b[0], -b[1]], symbolSize: [b[2], b[3]] }; })
};

function lineSeries(list, color, dash) {
  return {
    type: "lines", coordinateSystem: "geo", polyline: true, silent: true, z: 5,
    lineStyle: { color: color, width: 1, type: dash, opacity: 1 },
    data: list.map(function (l) { return { coords: l.map(xy) }; })
  };
}

const bordersSeries = {
  type: "lines", coordinateSystem: "geo", polyline: true, silent: true, z: 3,
  lineStyle: { color: "#ffffff", width: 0.8, opacity: 1 },
  data: innerBorders.map(function (l) { return { coords: l }; })
};

const dotSeries = {
  type: "scatter", coordinateSystem: "geo", silent: true, z: 8, symbol: "circle", symbolSize: 8,
  itemStyle: { color: "#ffffff", borderColor: "#231f20", borderWidth: 1.4, opacity: 1 },
  data: noteDots.map(xy)
};

// text and swatches
const textColor = "#4b4b4d";
function textEl(x, y, str, font, fill) {
  return { type: "text", x: x, y: y, silent: true, z: 20, style: { text: str, font: font, fill: fill, verticalAlign: "middle", align: "left" } };
}
const graphicEls = [];
notes.forEach(function (n) {
  n[3].forEach(function (line, i) {
    if (line) graphicEls.push(textEl(n[0], n[1] + i * n[2], line, "18px 'Liberation Sans'", textColor));
  });
});
legendTitles.forEach(function (t) { graphicEls.push(textEl(t[0], t[1], t[2], "bold 18px 'Liberation Sans'", "#333335")); });
levelLegend.forEach(function (t) { graphicEls.push(textEl(t[0], t[1], t[2], "18px 'Liberation Sans'", textColor)); });
minerals.forEach(function (m, i) { graphicEls.push(textEl(legendTextX[i], legendIconAt[i][1] + (i === 1 ? 3 : i === 5 ? 4 : 1), m, "18px 'Liberation Sans'", textColor)); });
levelSwatches.forEach(function (s) {
  graphicEls.push({ type: "rect", silent: true, z: 20, shape: { x: s[0], y: s[1], width: 22, height: 22 }, style: { fill: s[2] } });
});
graphicEls.push({ type: "rect", silent: true, z: 1, shape: { x: 41, y: 686, width: 251, height: 210 }, style: { fill: "none", stroke: "#6d6e71", lineWidth: 1, lineDash: [2, 2] } });

const myChart = echarts.init(document.getElementById("chart"), null, { renderer: "canvas" });
myChart.setOption({
  animation: false,
  backgroundColor: "#ffffff",
  tooltip: { show: false },
  geo: {
    map: "monde",
    roam: false,
    silent: true,
    aspectScale: 1,
    boundingCoords: [[0, 0], [1601, -1181]],
    layoutCenter: ["50%", "50%"],
    layoutSize: 1601,
    label: { show: false },
    itemStyle: { areaColor: levelColors.aucune, borderColor: "#ffffff", borderWidth: 0.8 },
    emphasis: { disabled: true },
    regions: [].concat(
      levelRegions(levelAucune, levelColors.aucune),
      levelRegions(levelFaible, levelColors.faible),
      levelRegions(levelMoyenne, levelColors.moyenne),
      levelRegions(levelElevee, levelColors.elevee),
      levelRegions(levelRouge, levelColors.rouge)
    )
  },
  graphic: { elements: graphicEls },
  series: [
    bordersSeries,
    boxSeries,
    lineSeries(tradeLines, "#47484a", [2, 2]),
    lineSeries(noteLines, "#2b2b2d", [3, 3]),
    dotSeries,
    pctSeries
  ].concat(iconSeries)
});
window.addEventListener("resize", myChart.resize);
</script>
</body>
</html>
